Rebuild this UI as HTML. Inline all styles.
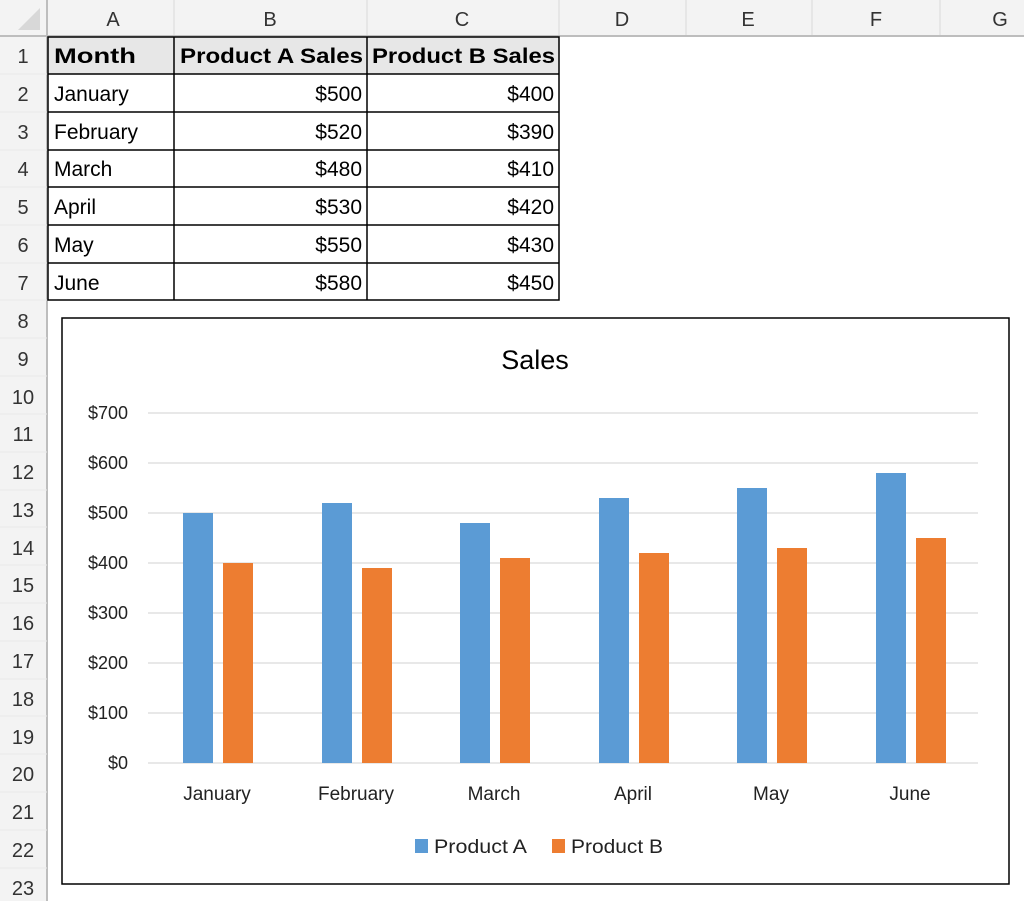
<!DOCTYPE html><html><head><style>body{margin:0;background:#fff}svg{display:block}text{font-family:"Liberation Sans",sans-serif}</style></head><body>
<svg width="1024" height="901" xmlns="http://www.w3.org/2000/svg">
<rect x="0" y="0" width="1024" height="36" fill="#f3f3f3"/>
<rect x="0" y="0" width="47" height="901" fill="#f3f3f3"/>
<polygon points="40,8 40,30 18,30" fill="#d8d8d8"/>
<g stroke="#d9d9d9" stroke-width="1">
<line x1="174" y1="0" x2="174" y2="36"/><line x1="367" y1="0" x2="367" y2="36"/><line x1="559" y1="0" x2="559" y2="36"/><line x1="686" y1="0" x2="686" y2="36"/><line x1="812" y1="0" x2="812" y2="36"/><line x1="940" y1="0" x2="940" y2="36"/>
</g>
<line x1="0" y1="36" x2="1024" y2="36" stroke="#bdbdbd" stroke-width="2"/>
<line x1="47" y1="0" x2="47" y2="901" stroke="#bdbdbd" stroke-width="2"/>
<g font-size="20" fill="#333" text-anchor="middle">
<text x="113" y="26">A</text><text x="270" y="26">B</text><text x="462" y="26">C</text><text x="622" y="26">D</text><text x="748" y="26">E</text><text x="876" y="26">F</text><text x="1000" y="26">G</text>
</g>
<g font-size="20" fill="#333" text-anchor="middle">
<text x="23" y="63">1</text><text x="23" y="101">2</text><text x="23" y="139">3</text><text x="23" y="176">4</text><text x="23" y="214">5</text><text x="23" y="252">6</text><text x="23" y="290">7</text><text x="23" y="328">8</text><text x="23" y="366">9</text><text x="23" y="404">10</text><text x="23" y="441">11</text><text x="23" y="479">12</text><text x="23" y="517">13</text><text x="23" y="555">14</text><text x="23" y="592">15</text><text x="23" y="630">16</text><text x="23" y="668">17</text><text x="23" y="706">18</text><text x="23" y="744">19</text><text x="23" y="781">20</text><text x="23" y="819">21</text><text x="23" y="857">22</text><text x="23" y="895">23</text>
</g>
<g stroke="#eaeaea"><line x1="0" y1="74" x2="47" y2="74"/><line x1="0" y1="112" x2="47" y2="112"/><line x1="0" y1="150" x2="47" y2="150"/><line x1="0" y1="187" x2="47" y2="187"/><line x1="0" y1="225" x2="47" y2="225"/><line x1="0" y1="263" x2="47" y2="263"/><line x1="0" y1="300" x2="47" y2="300"/><line x1="0" y1="338" x2="47" y2="338"/><line x1="0" y1="376" x2="47" y2="376"/><line x1="0" y1="414" x2="47" y2="414"/><line x1="0" y1="452" x2="47" y2="452"/><line x1="0" y1="490" x2="47" y2="490"/><line x1="0" y1="527" x2="47" y2="527"/><line x1="0" y1="565" x2="47" y2="565"/><line x1="0" y1="603" x2="47" y2="603"/><line x1="0" y1="641" x2="47" y2="641"/><line x1="0" y1="679" x2="47" y2="679"/><line x1="0" y1="716" x2="47" y2="716"/><line x1="0" y1="754" x2="47" y2="754"/><line x1="0" y1="792" x2="47" y2="792"/><line x1="0" y1="830" x2="47" y2="830"/><line x1="0" y1="868" x2="47" y2="868"/></g>
<rect x="48" y="37" width="511" height="37" fill="#e7e7e7"/>
<g stroke="#000" stroke-width="1.5" fill="none">
<rect x="48" y="37" width="511" height="263"/>
<line x1="174" y1="37" x2="174" y2="300"/><line x1="367" y1="37" x2="367" y2="300"/>
<line x1="48" y1="74" x2="559" y2="74"/><line x1="48" y1="112" x2="559" y2="112"/><line x1="48" y1="150" x2="559" y2="150"/><line x1="48" y1="187" x2="559" y2="187"/><line x1="48" y1="225" x2="559" y2="225"/><line x1="48" y1="263" x2="559" y2="263"/>
</g>
<g font-size="21" fill="#000">
<g font-weight="bold"><text x="54" y="63" textLength="82" lengthAdjust="spacingAndGlyphs">Month</text><text x="180" y="63" textLength="183" lengthAdjust="spacingAndGlyphs">Product A Sales</text><text x="372" y="63" textLength="183" lengthAdjust="spacingAndGlyphs">Product B Sales</text></g>
<text x="54" y="101">January</text><text x="54" y="139">February</text><text x="54" y="176">March</text><text x="54" y="214">April</text><text x="54" y="252">May</text><text x="54" y="290">June</text>
<g text-anchor="end">
<text x="362" y="101">$500</text><text x="362" y="139">$520</text><text x="362" y="176">$480</text><text x="362" y="214">$530</text><text x="362" y="252">$550</text><text x="362" y="290">$580</text>
<text x="554" y="101">$400</text><text x="554" y="139">$390</text><text x="554" y="176">$410</text><text x="554" y="214">$420</text><text x="554" y="252">$430</text><text x="554" y="290">$450</text>
</g></g>
<rect x="62" y="318" width="947" height="566" fill="#fff" stroke="#000" stroke-width="1.5"/>
<text x="535" y="369" font-size="27" text-anchor="middle" fill="#000">Sales</text>
<g stroke="#d9d9d9" stroke-width="1.2">
<line x1="148" y1="413" x2="978" y2="413"/><line x1="148" y1="463" x2="978" y2="463"/><line x1="148" y1="513" x2="978" y2="513"/><line x1="148" y1="563" x2="978" y2="563"/><line x1="148" y1="613" x2="978" y2="613"/><line x1="148" y1="663" x2="978" y2="663"/><line x1="148" y1="713" x2="978" y2="713"/><line x1="148" y1="763" x2="978" y2="763"/>
</g>
<g font-size="18" fill="#222" text-anchor="end">
<text x="128" y="419">$700</text><text x="128" y="469">$600</text><text x="128" y="519">$500</text><text x="128" y="569">$400</text><text x="128" y="619">$300</text><text x="128" y="669">$200</text><text x="128" y="719">$100</text><text x="128" y="769">$0</text>
</g>
<g fill="#5b9bd5">
<rect x="183" y="513" width="30" height="250"/><rect x="322" y="503" width="30" height="260"/><rect x="460" y="523" width="30" height="240"/><rect x="599" y="498" width="30" height="265"/><rect x="737" y="488" width="30" height="275"/><rect x="876" y="473" width="30" height="290"/>
</g>
<g fill="#ed7d31">
<rect x="223" y="563" width="30" height="200"/><rect x="362" y="568" width="30" height="195"/><rect x="500" y="558" width="30" height="205"/><rect x="639" y="553" width="30" height="210"/><rect x="777" y="548" width="30" height="215"/><rect x="916" y="538" width="30" height="225"/>
</g>
<g font-size="19" fill="#222" text-anchor="middle">
<text x="217" y="800">January</text><text x="356" y="800">February</text><text x="494" y="800">March</text><text x="633" y="800">April</text><text x="771" y="800">May</text><text x="910" y="800">June</text>
</g>
<rect x="415" y="839" width="13" height="14" fill="#5b9bd5"/>
<text x="434" y="853" font-size="19" fill="#222" textLength="93" lengthAdjust="spacingAndGlyphs">Product A</text>
<rect x="552" y="839" width="13" height="14" fill="#ed7d31"/>
<text x="571" y="853" font-size="19" fill="#222" textLength="92" lengthAdjust="spacingAndGlyphs">Product B</text>
</svg>
</body></html>
